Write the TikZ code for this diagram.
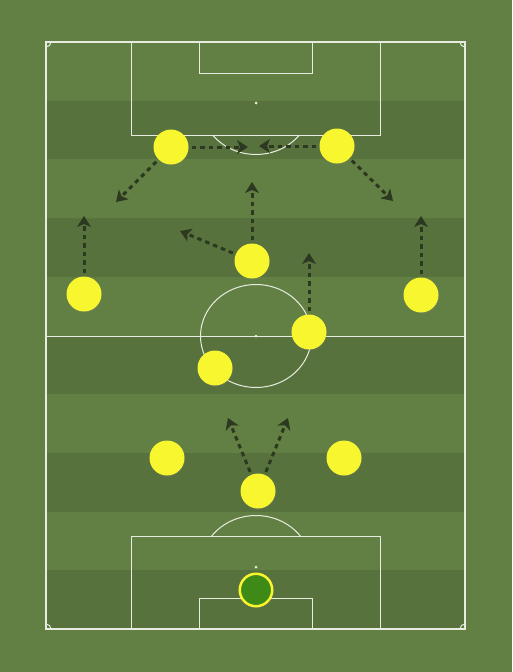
\documentclass[tikz,border=0pt]{standalone}
\usepackage{tikz}
\usetikzlibrary{arrows.meta,shadows}
\definecolor{grassA}{RGB}{98,128,67}
\definecolor{grassB}{RGB}{88,114,61}
\definecolor{chalk}{RGB}{232,236,224}
\definecolor{shirt}{RGB}{248,246,47}
\definecolor{gkshirt}{RGB}{61,138,22}
\definecolor{runcol}{RGB}{44,56,31}

\begin{document}
\begin{tikzpicture}[x=1pt,y=-1pt,
	player/.style={circle,fill=shirt,minimum size=35pt,inner sep=0pt,drop shadow={shadow xshift=0.5pt,shadow yshift=-1.2pt,opacity=0.25}},
	keeper/.style={player,fill=gkshirt,draw=shirt,line width=2.5pt,minimum size=32.5pt},
	run/.style={draw=runcol,line width=3pt,dash pattern=on 4.5pt off 4pt,-{Stealth[length=11pt,width=14pt,inset=3pt,line width=0pt,fill=runcol]},shorten <=3pt},
	chalkline/.style={draw=chalk,line width=1pt}]
	
	\useasboundingbox (0,0) rectangle (512,672);
	\fill[grassA] (0,0) rectangle (512,672);
	\foreach \k in {1,3,5,7,9}
	\fill[grassB] (46,{42+\k*58.7}) rectangle (465,{42+(\k+1)*58.7});
	
	% pitch lines
	\draw[chalkline,line width=1.5pt] (46,42) rectangle (465,629);
	\draw[chalkline] (46,336) -- (465,336);
	\draw[chalkline] (256,336) ellipse [x radius=55.5,y radius=51.5];
	\draw[chalkline] (131,42) rectangle (380,135);
	\draw[chalkline] (199,42) rectangle (312,73);
	\draw[chalkline] (131,629) rectangle (380,536);
	\draw[chalkline] (199,629) rectangle (312,598);
	\begin{scope}
		\clip (46,135) rectangle (465,200);
		\draw[chalkline] (256,103) ellipse [x radius=55.5,y radius=51.5];
	\end{scope}
	\begin{scope}
		\clip (46,470) rectangle (465,536);
		\draw[chalkline] (256,567) ellipse [x radius=55.5,y radius=51.5];
	\end{scope}
	\draw[chalkline] (51,42) arc [start angle=0,end angle=90,radius=5];
	\draw[chalkline] (460,42) arc [start angle=180,end angle=90,radius=5];
	\draw[chalkline] (51,629) arc [start angle=0,end angle=-90,radius=5];
	\draw[chalkline] (460,629) arc [start angle=180,end angle=270,radius=5];
	\fill[chalk] (256,103) circle [radius=1.5];
	\fill[chalk] (256,336) circle [radius=1.5];
	\fill[chalk] (256,567) circle [radius=1.5];
	
	% players
	\node[keeper] (1) at (256,590) {};
	\node[player] (2) at (167,458) {};
	\node[player] (3) at (344,458) {};
	\node[player] (4) at (258,491) {};
	\node[player] (5) at (215,368) {};
	\node[player] (6) at (309,332) {};
	\node[player] (7) at (252,261) {};
	\node[player] (8) at (84,294) {};
	\node[player] (9) at (421,295) {};
	\node[player] (10) at (171,147) {};
	\node[player] (11) at (337,146) {};
	
	% runs
	\coordinate (t4l) at (228,418);
	\coordinate (t4r) at (288,418);
	\coordinate (t6) at (309,253);
	\coordinate (t7u) at (252,182);
	\coordinate (t7l) at (180,231);
	\coordinate (t8) at (84,216);
	\coordinate (t9) at (421,216);
	\coordinate (t10r) at (248,147);
	\coordinate (t10d) at (116,202);
	\coordinate (t11l) at (259,146);
	\coordinate (t11d) at (393,201);
	
	\draw[run] (4) -- (t4l);
	\draw[run] (4) -- (t4r);
	\draw[run] (6) -- (t6);
	\draw[run] (7) -- (t7u);
	\draw[run] (7) -- (t7l);
	\draw[run] (8) -- (t8);
	\draw[run] (9) -- (t9);
	\draw[run] (10) -- (t10r);
	\draw[run] (10) -- (t10d);
	\draw[run] (11) -- (t11l);
	\draw[run] (11) -- (t11d);
\end{tikzpicture}
\end{document}
